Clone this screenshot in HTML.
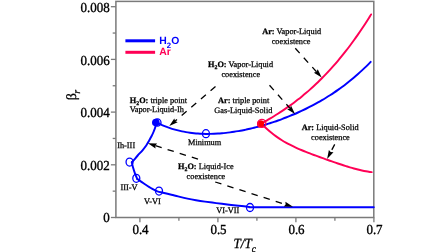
<!DOCTYPE html>
<html><head><meta charset="utf-8"><title>Phase diagram</title>
<style>html,body{margin:0;padding:0;background:#fff;width:448px;height:252px;overflow:hidden}svg{display:block}</style>
</head><body>
<svg width="448" height="252" viewBox="0 0 448 252" text-rendering="geometricPrecision">
<rect width="448" height="252" fill="#fff"/>
<rect x="115.9" y="1.4" width="257.9" height="216.1" fill="none" stroke="#7a7a7a" stroke-width="1.5"/>
<g stroke="#7a7a7a" stroke-width="1.3"><line x1="110.90" y1="217.50" x2="115.9" y2="217.50"/><line x1="112.70" y1="191.15" x2="115.9" y2="191.15"/><line x1="110.90" y1="164.80" x2="115.9" y2="164.80"/><line x1="112.70" y1="138.45" x2="115.9" y2="138.45"/><line x1="110.90" y1="112.10" x2="115.9" y2="112.10"/><line x1="112.70" y1="85.75" x2="115.9" y2="85.75"/><line x1="110.90" y1="59.40" x2="115.9" y2="59.40"/><line x1="112.70" y1="33.05" x2="115.9" y2="33.05"/><line x1="110.90" y1="6.70" x2="115.9" y2="6.70"/><line x1="139.90" y1="217.5" x2="139.90" y2="222.30"/><line x1="178.90" y1="217.5" x2="178.90" y2="220.70"/><line x1="217.90" y1="217.5" x2="217.90" y2="222.30"/><line x1="256.90" y1="217.5" x2="256.90" y2="220.70"/><line x1="295.90" y1="217.5" x2="295.90" y2="222.30"/><line x1="334.90" y1="217.5" x2="334.90" y2="220.70"/><line x1="373.90" y1="217.5" x2="373.90" y2="222.30"/></g>
<g font-family="Liberation Serif, serif" font-size="13.8" fill="#000" stroke="#000" stroke-width="0.35"><text transform="translate(109.8,222.10) scale(0.94,1)" text-anchor="end">0</text><text transform="translate(109.8,169.90) scale(0.94,1)" text-anchor="end">0.002</text><text transform="translate(109.8,117.30) scale(0.94,1)" text-anchor="end">0.004</text><text transform="translate(109.8,64.50) scale(0.94,1)" text-anchor="end">0.006</text><text transform="translate(109.8,11.90) scale(0.94,1)" text-anchor="end">0.008</text><text transform="translate(140.50,233.7) scale(0.94,1)" text-anchor="middle">0.4</text><text transform="translate(218.50,233.7) scale(0.94,1)" text-anchor="middle">0.5</text><text transform="translate(296.50,233.7) scale(0.94,1)" text-anchor="middle">0.6</text><text transform="translate(374.50,233.7) scale(0.94,1)" text-anchor="middle">0.7</text></g>
<text transform="translate(75.8,100.2) rotate(-90)" font-family="Liberation Serif, serif" font-size="14" fill="#000" stroke="#000" stroke-width="0.3">β<tspan font-style="italic" font-size="10" dx="-0.6" dy="4.2">r</tspan></text>
<text transform="translate(233.6,247.7) scale(0.93,1)" font-family="Liberation Serif, serif" font-size="14" font-style="italic" fill="#000" stroke="#000" stroke-width="0.3">T/T<tspan font-size="10" dy="3.8">c</tspan></text>
<g fill="none" stroke-linejoin="round" stroke-linecap="round">
<path d="M261.90,123.22 C262.57,122.84 264.57,121.73 265.90,120.97 C267.23,120.20 268.57,119.43 269.90,118.64 C271.23,117.85 272.57,117.04 273.90,116.22 C275.23,115.40 276.57,114.57 277.90,113.72 C279.23,112.87 280.57,112.00 281.90,111.12 C283.23,110.23 284.57,109.33 285.90,108.41 C287.23,107.49 288.57,106.55 289.90,105.59 C291.23,104.63 292.57,103.66 293.90,102.66 C295.23,101.66 296.57,100.64 297.90,99.60 C299.23,98.56 300.57,97.49 301.90,96.41 C303.23,95.32 304.57,94.21 305.90,93.08 C307.23,91.95 308.57,90.79 309.90,89.61 C311.23,88.43 312.57,87.22 313.90,85.99 C315.23,84.76 316.57,83.50 317.90,82.22 C319.23,80.93 320.57,79.62 321.90,78.28 C323.23,76.94 324.57,75.57 325.90,74.18 C327.23,72.78 328.57,71.35 329.90,69.90 C331.23,68.44 332.57,66.96 333.90,65.44 C335.23,63.93 336.57,62.38 337.90,60.80 C339.23,59.22 340.57,57.61 341.90,55.97 C343.23,54.33 344.57,52.65 345.90,50.94 C347.23,49.23 348.57,47.49 349.90,45.72 C351.23,43.94 352.57,42.13 353.90,40.28 C355.23,38.43 356.57,36.55 357.90,34.63 C359.23,32.72 360.57,30.76 361.90,28.77 C363.23,26.78 364.57,24.75 365.90,22.68 C367.23,20.62 369.03,17.75 369.90,16.37 C370.77,15.00 370.90,14.76 371.10,14.43" stroke="#ff0055" stroke-width="1.95"/>
<path d="M261.90,123.96 C262.57,124.63 264.57,126.70 265.90,127.96 C267.23,129.22 268.57,130.41 269.90,131.53 C271.23,132.66 272.57,133.72 273.90,134.74 C275.23,135.75 276.57,136.70 277.90,137.61 C279.23,138.52 280.57,139.38 281.90,140.21 C283.23,141.03 284.57,141.81 285.90,142.56 C287.23,143.31 288.57,144.02 289.90,144.71 C291.23,145.39 292.57,146.05 293.90,146.68 C295.23,147.32 296.57,147.93 297.90,148.52 C299.23,149.12 300.57,149.69 301.90,150.25 C303.23,150.81 304.57,151.35 305.90,151.88 C307.23,152.42 308.57,152.94 309.90,153.45 C311.23,153.96 312.57,154.47 313.90,154.97 C315.23,155.46 316.57,155.95 317.90,156.44 C319.23,156.93 320.57,157.41 321.90,157.89 C323.23,158.37 324.57,158.84 325.90,159.31 C327.23,159.78 328.57,160.25 329.90,160.72 C331.23,161.18 332.57,161.64 333.90,162.10 C335.23,162.56 336.57,163.01 337.90,163.46 C339.23,163.91 340.57,164.35 341.90,164.79 C343.23,165.23 344.57,165.66 345.90,166.08 C347.23,166.50 348.57,166.91 349.90,167.31 C351.23,167.71 352.57,168.10 353.90,168.47 C355.23,168.84 356.57,169.20 357.90,169.54 C359.23,169.87 360.57,170.19 361.90,170.48 C363.23,170.77 364.57,171.05 365.90,171.28 C367.23,171.52 368.93,171.77 369.90,171.91 C370.87,172.05 371.40,172.09 371.70,172.12" stroke="#ff0055" stroke-width="1.95"/>
<path d="M158.00,123.23 C158.67,123.53 160.67,124.47 162.00,125.04 C163.33,125.61 164.67,126.15 166.00,126.66 C167.33,127.16 168.67,127.64 170.00,128.09 C171.33,128.53 172.67,128.95 174.00,129.34 C175.33,129.72 176.67,130.08 178.00,130.42 C179.33,130.75 180.67,131.06 182.00,131.34 C183.33,131.62 184.67,131.87 186.00,132.11 C187.33,132.34 188.67,132.54 190.00,132.73 C191.33,132.91 192.67,133.07 194.00,133.21 C195.33,133.35 196.67,133.47 198.00,133.57 C199.33,133.66 200.67,133.74 202.00,133.79 C203.33,133.85 204.67,133.89 206.00,133.91 C207.33,133.92 208.67,133.92 210.00,133.90 C211.33,133.89 212.67,133.85 214.00,133.80 C215.33,133.74 216.67,133.67 218.00,133.58 C219.33,133.50 220.67,133.39 222.00,133.28 C223.33,133.16 224.67,133.02 226.00,132.88 C227.33,132.73 228.67,132.56 230.00,132.39 C231.33,132.21 232.67,132.02 234.00,131.81 C235.33,131.61 236.67,131.39 238.00,131.16 C239.33,130.92 240.67,130.68 242.00,130.42 C243.33,130.16 244.67,129.89 246.00,129.61 C247.33,129.32 248.67,129.03 250.00,128.72 C251.33,128.41 252.67,128.09 254.00,127.76 C255.33,127.43 256.67,127.08 258.00,126.73 C259.33,126.37 260.67,126.00 262.00,125.62 C263.33,125.24 264.67,124.85 266.00,124.45 C267.33,124.05 268.67,123.63 270.00,123.21 C271.33,122.78 272.67,122.35 274.00,121.90 C275.33,121.45 276.67,120.99 278.00,120.51 C279.33,120.04 280.67,119.56 282.00,119.06 C283.33,118.56 284.67,118.06 286.00,117.53 C287.33,117.01 288.67,116.48 290.00,115.93 C291.33,115.39 292.67,114.83 294.00,114.26 C295.33,113.69 296.67,113.10 298.00,112.50 C299.33,111.90 300.67,111.29 302.00,110.67 C303.33,110.04 304.67,109.40 306.00,108.75 C307.33,108.09 308.67,107.42 310.00,106.74 C311.33,106.06 312.67,105.36 314.00,104.64 C315.33,103.93 316.67,103.19 318.00,102.45 C319.33,101.70 320.67,100.93 322.00,100.15 C323.33,99.37 324.67,98.57 326.00,97.75 C327.33,96.93 328.67,96.10 330.00,95.24 C331.33,94.38 332.67,93.51 334.00,92.61 C335.33,91.72 336.67,90.80 338.00,89.86 C339.33,88.92 340.67,87.97 342.00,86.98 C343.33,86.00 344.67,85.00 346.00,83.97 C347.33,82.94 348.67,81.89 350.00,80.81 C351.33,79.73 352.67,78.63 354.00,77.50 C355.33,76.38 356.67,75.22 358.00,74.04 C359.33,72.85 360.67,71.65 362.00,70.41 C363.33,69.17 364.67,67.90 366.00,66.60 C367.33,65.30 369.22,63.39 370.00,62.61 C370.78,61.82 370.58,62.01 370.70,61.89" stroke="#0000ff" stroke-width="1.95"/>
<path d="M156.00,121.90 C155.90,122.72 155.78,125.20 155.40,126.80 C155.02,128.40 154.35,129.92 153.70,131.50 C153.05,133.08 152.30,134.72 151.50,136.30 C150.70,137.88 149.75,139.52 148.90,141.00 C148.05,142.48 147.47,143.65 146.40,145.20 C145.33,146.75 143.95,148.58 142.50,150.30 C141.05,152.02 139.22,153.78 137.70,155.50 C136.18,157.22 134.38,159.50 133.40,160.60 C132.42,161.70 132.07,161.85 131.80,162.10" stroke="#0000ff" stroke-width="1.95"/>
<path d="M131.80,162.10 C131.98,162.93 132.35,165.15 132.90,167.10 C133.45,169.05 134.37,171.82 135.10,173.80 C135.83,175.78 136.93,178.13 137.30,179.00" stroke="#0000ff" stroke-width="1.95"/>
<path d="M137.30,179.00 C138.40,179.75 141.47,181.88 143.90,183.50 C146.33,185.12 149.65,187.40 151.90,188.70 C154.15,190.00 155.55,190.63 157.40,191.30 C159.25,191.97 160.67,192.13 163.00,192.70 C165.33,193.27 168.88,194.08 171.40,194.70 C173.92,195.32 175.42,195.75 178.10,196.40 C180.78,197.05 184.52,197.97 187.50,198.60 C190.48,199.23 193.08,199.70 196.00,200.20 C198.92,200.70 201.63,201.12 205.00,201.60 C208.37,202.08 212.48,202.62 216.20,203.10 C219.92,203.58 223.58,204.05 227.30,204.50 C231.02,204.95 235.15,205.43 238.50,205.80 C241.85,206.17 245.15,206.48 247.40,206.70 C249.65,206.92 249.90,207.02 252.00,207.10 C254.10,207.18 239.71,207.18 260.00,207.20 C280.29,207.22 354.79,207.20 373.75,207.20" stroke="#0000ff" stroke-width="1.95"/>
</g>
<g fill="none" stroke="#0000ff" stroke-width="1.3">
<ellipse cx="205.95" cy="133.7" rx="3.5" ry="4.0"/>
<ellipse cx="129.55" cy="162.1" rx="3.5" ry="4.0"/>
<ellipse cx="136.3" cy="178.3" rx="3.5" ry="4.0"/>
<ellipse cx="159.0" cy="191.1" rx="3.5" ry="4.0"/>
<ellipse cx="250.0" cy="207.5" rx="3.5" ry="4.0"/>
</g>
<circle cx="155.8" cy="122.5" r="3.8" fill="#0000ff"/>
<circle cx="157.4" cy="122.5" r="3.6" fill="none" stroke="#0000ff" stroke-width="1.3"/>
<circle cx="260.6" cy="123.9" r="3.6" fill="#ff0000"/>
<circle cx="261.9" cy="123.4" r="4.0" fill="none" stroke="#ff0055" stroke-width="1.3"/>
<line x1="215.50" y1="86.40" x2="175.22" y2="121.02" stroke="#000" stroke-width="1.3" stroke-dasharray="6.5,6.2" stroke-dashoffset="0"/><path d="M169.30,126.10 L174.28,118.39 L175.17,121.05 L177.67,122.34 Z" fill="#000"/>
<line x1="269.50" y1="85.30" x2="289.82" y2="108.17" stroke="#000" stroke-width="1.3" stroke-dasharray="6.5,6.2" stroke-dashoffset="0"/><path d="M295.00,114.00 L287.21,109.15 L289.86,108.21 L291.10,105.69 Z" fill="#000"/>
<line x1="295.30" y1="48.30" x2="316.48" y2="71.81" stroke="#000" stroke-width="1.3" stroke-dasharray="6.5,6.2" stroke-dashoffset="0"/><path d="M321.70,77.60 L313.88,72.80 L316.52,71.85 L317.74,69.32 Z" fill="#000"/>
<line x1="334.70" y1="144.40" x2="330.72" y2="151.99" stroke="#000" stroke-width="1.3" stroke-dasharray="6.2,20" stroke-dashoffset="0"/><path d="M327.10,158.90 L328.88,149.90 L330.70,152.04 L333.49,152.31 Z" fill="#000"/>
<line x1="198.00" y1="159.10" x2="155.34" y2="145.65" stroke="#000" stroke-width="1.3" stroke-dasharray="6.5,6.2" stroke-dashoffset="0"/><path d="M147.90,143.30 L157.07,143.47 L155.29,145.63 L155.51,148.43 Z" fill="#000"/>
<line x1="215.20" y1="182.00" x2="285.57" y2="204.43" stroke="#000" stroke-width="1.3" stroke-dasharray="6.5,6.2" stroke-dashoffset="0"/><path d="M293.00,206.80 L283.83,206.60 L285.62,204.45 L285.41,201.65 Z" fill="#000"/>
<line x1="125.4" y1="40.8" x2="155.1" y2="40.8" stroke="#0000ff" stroke-width="3"/>
<line x1="125.4" y1="52.3" x2="155.1" y2="52.3" stroke="#ff0055" stroke-width="3"/>
<text x="159.3" y="44.1" font-family="Liberation Sans, sans-serif" font-weight="bold" font-size="10.4" fill="#0000ff">H<tspan font-size="7.8" dy="3.6">2</tspan><tspan dy="-3.6">O</tspan></text>
<text x="159.3" y="55.2" font-family="Liberation Sans, sans-serif" font-weight="bold" font-size="10.4" fill="#ff0055">Ar</text>
<g font-family="Liberation Serif, serif" font-size="8.3" fill="#000" stroke="#000" stroke-width="0.25"><text x="129.75" y="102.60"><tspan font-weight="bold">H<tspan font-size="5.8" dy="2.0">2</tspan><tspan dy="-2.0">O:</tspan></tspan> triple point</text><text x="129.70" y="112.40">Vapor-Liquid-Ih</text><text x="208.00" y="66.50"><tspan font-weight="bold">H<tspan font-size="5.8" dy="2.0">2</tspan><tspan dy="-2.0">O:</tspan></tspan> Vapor-Liquid</text><text x="221.40" y="76.60">coexistence</text><text x="262.20" y="34.10"><tspan font-weight="bold">Ar:</tspan> Vapor-Liquid</text><text x="271.70" y="44.10">coexistence</text><text x="218.10" y="102.70"><tspan font-weight="bold">Ar:</tspan> triple point</text><text x="214.30" y="112.80">Gas-Liquid-Solid</text><text x="178.00" y="168.70"><tspan font-weight="bold">H<tspan font-size="5.8" dy="2.0">2</tspan><tspan dy="-2.0">O:</tspan></tspan> Liquid-Ice</text><text x="186.60" y="178.80">coexistence</text><text x="301.70" y="130.40"><tspan font-weight="bold">Ar:</tspan> Liquid-Solid</text><text x="311.10" y="140.20">coexistence</text><text x="117.20" y="148.40">Ih-III</text><text x="120.40" y="189.50">III-V</text><text x="144.00" y="204.00">V-VI</text><text x="216.20" y="213.30">VI-VII</text><text x="188.00" y="144.70">Minimum</text></g>
</svg>
</body></html>
